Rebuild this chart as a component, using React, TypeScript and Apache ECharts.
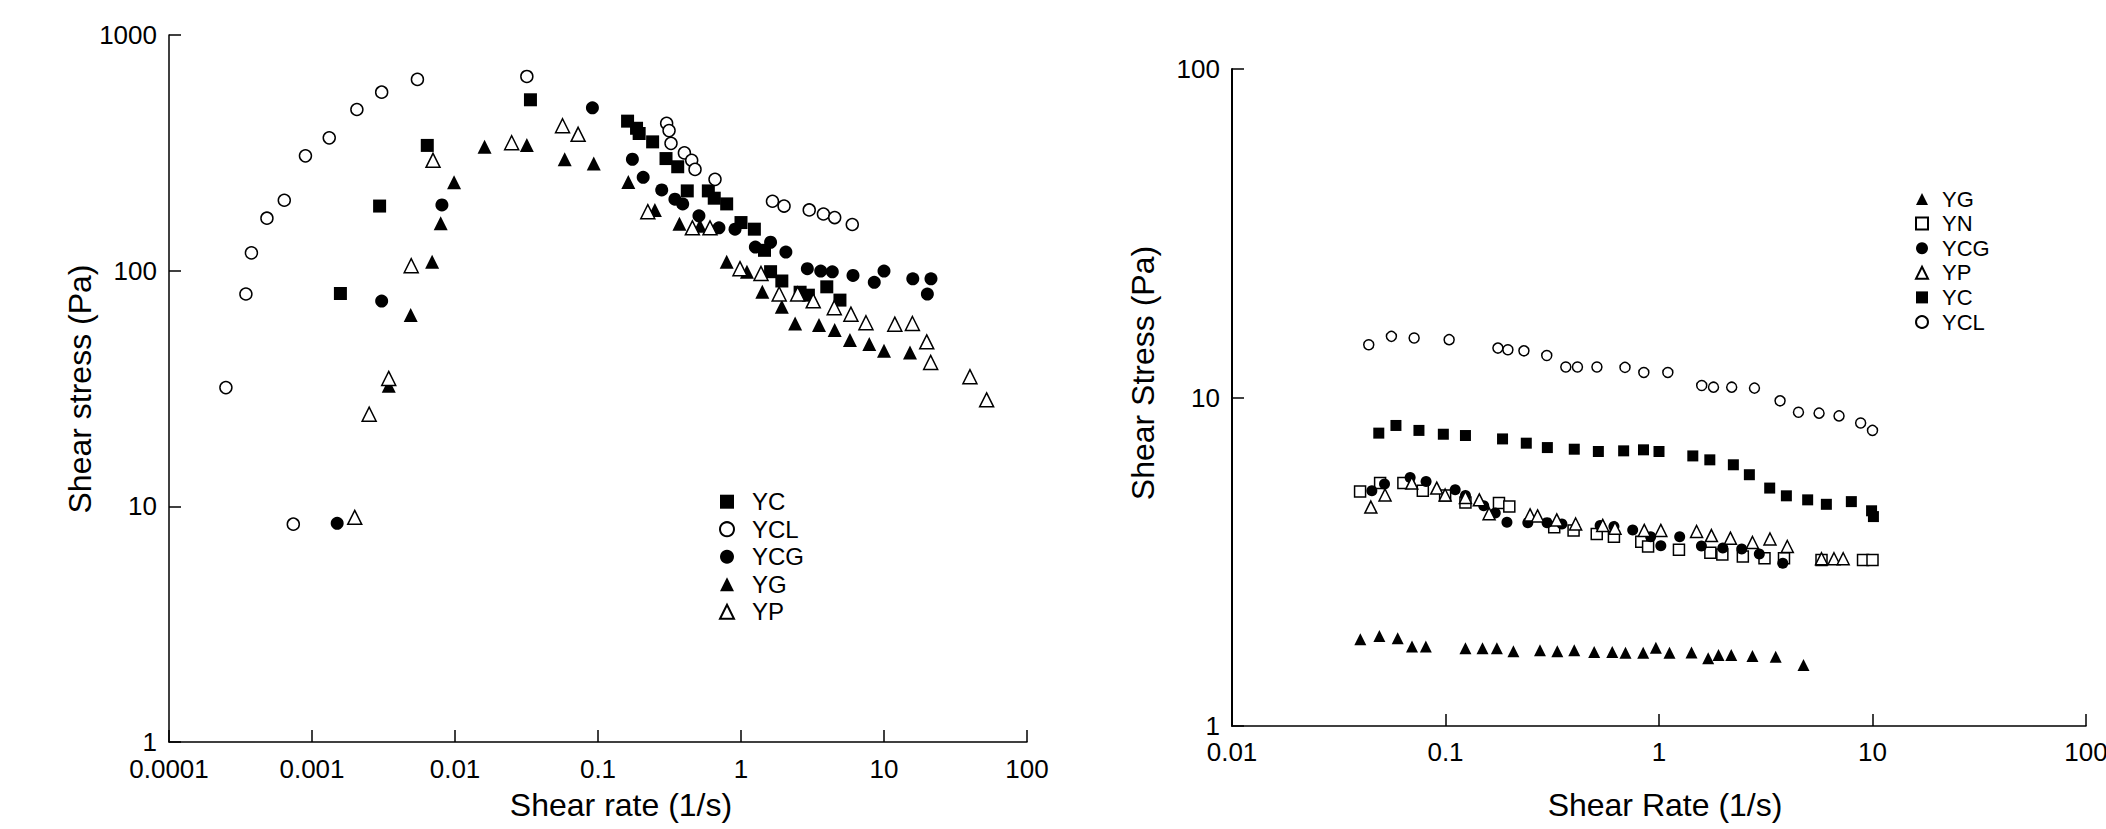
import React, { useEffect, useRef } from "react";
import * as echarts from "echarts";

// ---------- Left chart data: [shear rate (1/s), shear stress (Pa)] ----------
const leftYC: [number, number][] = [
  [0.00158, 80], [0.00297, 188], [0.0064, 340], [0.0337, 531], [0.161, 431], [0.186, 402],
  [0.194, 382], [0.241, 352], [0.299, 299], [0.361, 276], [0.421, 218], [0.591, 218],
  [0.65, 203], [0.794, 192], [1.0, 160], [1.24, 150], [1.46, 122], [1.61, 99], [1.93, 90.4],
  [2.59, 81], [2.96, 78.7], [3.98, 85.4], [4.92, 75],
];
const leftYCL: [number, number][] = [
  [0.00025, 31.9], [0.000345, 79.6], [0.000377, 119], [0.000484, 167], [0.00064, 199],
  [0.00074, 8.4], [0.0009, 307], [0.00132, 366], [0.00206, 483], [0.00307, 572],
  [0.00546, 648], [0.0318, 667], [0.302, 422], [0.314, 393], [0.324, 347], [0.402, 316],
  [0.452, 294], [0.477, 269], [0.658, 244], [1.66, 197], [2.0, 188], [3.0, 181],
  [3.77, 174], [4.52, 168], [6.0, 157],
];
const leftYCG: [number, number][] = [
  [0.0015, 8.47], [0.00307, 74.3], [0.0081, 190], [0.0914, 491], [0.174, 297], [0.207, 249],
  [0.279, 220], [0.345, 201], [0.391, 192], [0.508, 171], [0.701, 152], [0.908, 150],
  [1.26, 126], [1.61, 132], [2.06, 120], [2.91, 102], [3.61, 99.6], [4.35, 98.9],
  [6.07, 95.5], [8.55, 89.2], [10.0, 99.6], [15.9, 92.4], [20.1, 79.6], [21.3, 92.4],
];
const leftYG: [number, number][] = [
  [0.00344, 32.5], [0.0049, 64.8], [0.00692, 109], [0.00794, 159], [0.00985, 237],
  [0.0161, 336], [0.0318, 341], [0.0585, 297], [0.0934, 285], [0.163, 238], [0.25, 181],
  [0.371, 158], [0.516, 155], [0.794, 109], [1.1, 98.9], [1.41, 81.4], [1.93, 70.3],
  [2.39, 59.7], [3.51, 58.8], [4.52, 56], [5.78, 50.8], [7.89, 48.9], [10.0, 45.7],
  [15.2, 44.9],
];
const leftYP: [number, number][] = [
  [0.00199, 8.98], [0.00251, 24.6], [0.00344, 34.9], [0.00494, 105], [0.00702, 294],
  [0.0249, 349], [0.0565, 412], [0.0726, 379], [0.223, 178], [0.457, 152], [0.607, 152],
  [0.984, 102], [1.38, 97.3], [1.85, 79.6], [2.49, 79.6], [3.2, 74.5], [4.49, 69.6],
  [5.87, 65.4], [7.48, 60.1], [11.9, 59.3], [15.8, 59.7], [19.9, 49.9], [21.2, 40.8],
  [39.9, 35.5], [52.2, 28.3],
];

// ---------- Right chart data ----------
const rightYG: [number, number][] = [
  [0.0399, 1.836], [0.049, 1.88], [0.0597, 1.85], [0.0697, 1.745], [0.0809, 1.745],
  [0.124, 1.725], [0.149, 1.725], [0.174, 1.725], [0.208, 1.69], [0.277, 1.7], [0.334, 1.69],
  [0.401, 1.7], [0.497, 1.68], [0.604, 1.68], [0.697, 1.67], [0.843, 1.67], [0.967, 1.73],
  [1.12, 1.67], [1.42, 1.675], [1.7, 1.607], [1.9, 1.645], [2.18, 1.645], [2.74, 1.634],
  [3.52, 1.626], [4.75, 1.534],
];
const rightYN: [number, number][] = [
  [0.0398, 5.17], [0.0494, 5.49], [0.0635, 5.49], [0.0783, 5.2], [0.0996, 5.03],
  [0.124, 4.79], [0.178, 4.77], [0.199, 4.66], [0.323, 4.03], [0.398, 3.94], [0.511, 3.84],
  [0.615, 3.77], [0.826, 3.64], [0.889, 3.52], [1.24, 3.44], [1.74, 3.37], [1.98, 3.33],
  [2.47, 3.28], [3.12, 3.24], [3.85, 3.24], [5.77, 3.2], [9.03, 3.2], [10.0, 3.2],
];
const rightYCG: [number, number][] = [
  [0.0452, 5.2], [0.0518, 5.45], [0.0683, 5.71], [0.0811, 5.55], [0.111, 5.24],
  [0.124, 5.03], [0.151, 4.68], [0.171, 4.45], [0.194, 4.17], [0.243, 4.16], [0.299, 4.16],
  [0.351, 4.12], [0.53, 4.08], [0.615, 4.05], [0.753, 3.95], [0.914, 3.77], [1.02, 3.54],
  [1.25, 3.77], [1.58, 3.53], [1.99, 3.48], [2.44, 3.46], [2.95, 3.34], [3.8, 3.13],
];
const rightYP: [number, number][] = [
  [0.0447, 4.64], [0.0521, 5.05], [0.0695, 5.49], [0.091, 5.3], [0.0996, 5.05],
  [0.124, 4.96], [0.144, 4.88], [0.16, 4.43], [0.249, 4.39], [0.27, 4.36], [0.332, 4.24],
  [0.407, 4.12], [0.545, 4.08], [0.622, 4.0], [0.853, 3.94], [1.02, 3.94], [1.5, 3.91],
  [1.76, 3.8], [2.16, 3.73], [2.74, 3.62], [3.31, 3.71], [3.99, 3.52], [5.77, 3.23],
  [6.6, 3.23], [7.29, 3.23],
];
const rightYC: [number, number][] = [
  [0.0487, 7.79], [0.0586, 8.22], [0.0751, 7.94], [0.0977, 7.73], [0.124, 7.66],
  [0.185, 7.48], [0.239, 7.26], [0.3, 7.04], [0.401, 6.96], [0.52, 6.85], [0.683, 6.88],
  [0.846, 6.93], [1.0, 6.85], [1.44, 6.64], [1.73, 6.46], [2.23, 6.24], [2.65, 5.82],
  [3.3, 5.3], [3.95, 5.02], [4.97, 4.88], [6.08, 4.73], [7.96, 4.82], [9.9, 4.52], [10.1, 4.34],
];
const rightYCL: [number, number][] = [
  [0.0437, 14.47], [0.0558, 15.35], [0.0713, 15.17], [0.104, 15.0], [0.176, 14.14],
  [0.196, 13.97], [0.233, 13.87], [0.298, 13.42], [0.366, 12.38], [0.415, 12.38],
  [0.512, 12.38], [0.693, 12.35], [0.849, 11.92], [1.1, 11.92], [1.585, 10.88], [1.8, 10.75],
  [2.19, 10.75], [2.8, 10.68], [3.69, 9.77], [4.5, 9.02], [5.62, 8.96], [6.97, 8.79],
  [8.8, 8.36], [10.0, 7.94],
];

const leftLegend = ["YC", "YCL", "YCG", "YG", "YP"];
const rightLegend = ["YG", "YN", "YCG", "YP", "YC", "YCL"];

const leftXTitle = "Shear rate (1/s)";
const leftYTitle = "Shear stress (Pa)";
const rightXTitle = "Shear Rate (1/s)";
const rightYTitle = "Shear Stress (Pa)";

const FONT = "'Liberation Sans', Arial, Helvetica, sans-serif";

type Style = { symbol: string; open: boolean };
const styles: Record<string, Style> = {
  YC: { symbol: "rect", open: false },
  YCL: { symbol: "circle", open: true },
  YCG: { symbol: "circle", open: false },
  YG: { symbol: "triangle", open: false },
  YP: { symbol: "triangle", open: true },
  YN: { symbol: "rect", open: true },
};

function fmt(v: number) {
  return String(parseFloat(v.toPrecision(4)));
}

export default function App() {
  const ref = useRef<HTMLDivElement>(null);

  useEffect(() => {
    if (!ref.current) return;
    const chart = echarts.init(ref.current, null, { renderer: "svg" });

    const mk = (name: string, data: [number, number][], idx: number, size: number) => {
      const st = styles[name];
      return {
        name,
        type: "scatter",
        xAxisIndex: idx,
        yAxisIndex: idx,
        symbol: st.symbol,
        symbolSize: st.symbol === "triangle" ? size + 1 : st.open && st.symbol === "circle" ? size - 1 : size,
        itemStyle: st.open
          ? { color: "#fff", borderColor: "#000", borderWidth: 1.5, opacity: 1 }
          : { color: "#000", borderWidth: 0, opacity: 1 },
        emphasis: { disabled: true },
        data,
      };
    };

    const axisCommon = (fontSize: number, lineWidth: number, margin: number) => ({
      type: "log",
      logBase: 10,
      interval: 1,
      axisLine: { show: true, onZero: false, lineStyle: { color: "#000", width: lineWidth } },
      axisTick: { show: true, inside: true, length: 12, lineStyle: { color: "#000", width: 1.5 } },
      axisLabel: {
        color: "#000",
        fontSize,
        fontFamily: FONT,
        lineHeight: 20,
        margin,
        formatter: fmt,
      },
      splitLine: { show: false },
      minorTick: { show: false },
    });

    const titleText = (text: string, x: number, y: number, rot: number) => ({
      type: "text",
      x,
      y,
      rotation: rot,
      style: {
        text,
        fill: "#000",
        font: `32px ${FONT}`,
        align: "center",
        verticalAlign: "middle",
      },
    });

    const option: any = {
      animation: false,
      backgroundColor: "#fff",
      grid: [
        { left: 169, top: 35, width: 858, height: 707, containLabel: false, outerBoundsMode: "none" },
        { left: 1232, top: 69, width: 854, height: 657, containLabel: false, outerBoundsMode: "none" },
      ],
      xAxis: [
        { ...axisCommon(26, 1.5, 16.5), gridIndex: 0, min: 0.0001, max: 100 },
        { ...axisCommon(26, 1.5, 16), gridIndex: 1, min: 0.01, max: 100 },
      ],
      yAxis: [
        { ...axisCommon(26, 1.5, 12), gridIndex: 0, min: 1, max: 1000 },
        { ...axisCommon(26, 2, 12), gridIndex: 1, min: 1, max: 100 },
      ],
      legend: [
        {
          data: leftLegend,
          orient: "vertical",
          left: 714,
          top: 484.7,
          itemWidth: 14,
          itemHeight: 14,
          itemGap: 3.5,
          selectedMode: false,
          textStyle: { color: "#000", fontSize: 24, fontFamily: FONT, lineHeight: 24, padding: [0, 0, 0, 13] },
        },
        {
          data: rightLegend,
          orient: "vertical",
          left: 1910,
          top: 183,
          itemWidth: 12,
          itemHeight: 12,
          itemGap: 2.6,
          selectedMode: false,
          textStyle: { color: "#000", fontSize: 22, fontFamily: FONT, lineHeight: 22, padding: [0, 0, 0, 9] },
        },
      ],
      graphic: [
        titleText(leftXTitle, 621, 805, 0),
        titleText(leftYTitle, 80, 389, Math.PI / 2),
        titleText(rightXTitle, 1665, 805, 0),
        titleText(rightYTitle, 1143, 373, Math.PI / 2),
      ],
      series: [
        mk("YC", leftYC, 0, 13),
        mk("YCL", leftYCL, 0, 13),
        mk("YCG", leftYCG, 0, 13),
        mk("YG", leftYG, 0, 13),
        mk("YP", leftYP, 0, 13),
        mk("YG", rightYG, 1, 11),
        mk("YN", rightYN, 1, 11),
        mk("YCG", rightYCG, 1, 11),
        mk("YP", rightYP, 1, 11),
        mk("YC", rightYC, 1, 11),
        mk("YCL", rightYCL, 1, 11),
      ],
    };

    chart.setOption(option);
    return () => chart.dispose();
  }, []);

  return (
    <div
      ref={ref}
      style={{ position: "absolute", left: 0, top: 0, width: 2106, height: 829, background: "#fff" }}
    />
  );
}
